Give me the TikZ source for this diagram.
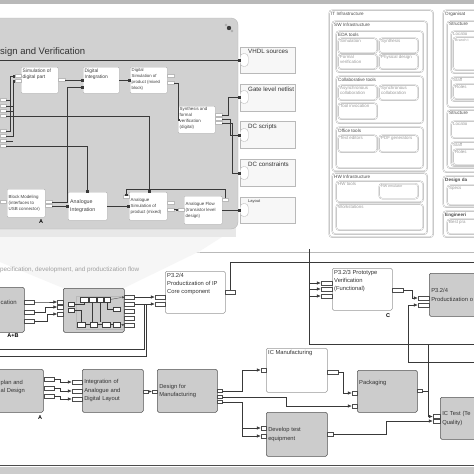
\documentclass[tikz,border=0pt]{standalone}
\usepackage{fontspec}
\setmainfont{Liberation Sans}
\usetikzlibrary{arrows.meta,calc}

\tikzset{
  cell/.style={anchor=north west, inner sep=0pt, rounded corners=1.5pt, line width=0.5pt},
  wtask/.style={cell, draw=gray!80, fill=white},
  gtask/.style={cell, draw=gray!65!black, fill=gray!40},
  ptask/.style={cell, draw=gray!60, fill=white, rounded corners=1pt, line width=0.4pt},
  doc/.style={cell, draw=gray!55, fill=gray!6, rounded corners=0pt, line width=0.4pt},
  docin/.style={draw=gray!55, fill=white, inner sep=0pt, minimum width=8pt, minimum height=13pt, rounded corners=3.5pt, line width=0.4pt},
  port/.style={draw=gray!60!black, fill=white, inner sep=0pt, minimum width=10pt, minimum height=4pt, line width=0.4pt},
  pport/.style={port, draw=gray!55, minimum width=6pt, minimum height=3.2pt},
  mport/.style={port, draw=gray!50!black, minimum height=4.5pt, line width=0.3pt},
  link/.style={draw=gray!45!black, line width=0.5pt},
  plink/.style={draw=gray!45!black, line width=0.4pt},
  arr/.style={-{Latex[length=4pt,width=3.4pt]}},
  sq/.style={-{Square[length=1.6pt,width=1.8pt]}},
  btxt/.style={anchor=north west, align=left, inner sep=2pt, font=\fontsize{5.8}{8}\selectfont, text=black!80},
  ctxt/.style={text width=#1, align=left, font=\fontsize{5.8}{8.5}\selectfont, text=black!80},
  ptxt/.style={anchor=north west, align=left, inner sep=1.5pt, font=\fontsize{4.9}{6}\selectfont, text=black!75},
  dtxt/.style={anchor=north west, inner sep=0pt, font=\fontsize{6.2}{7}\selectfont, text=black!80},
  tagtxt/.style={inner sep=0pt, font=\bfseries\fontsize{5.5}{6}\selectfont},
  itbox/.style={cell, draw=gray!65, double=white, double distance=0.6pt, line width=0.35pt, rounded corners=3pt},
  ittl/.style={anchor=north west, inner sep=1pt, xshift=1pt, yshift=-0.5pt, font=\fontsize{4.6}{5.2}\selectfont, text=black!70},
  itit/.style={anchor=north west, align=left, inner sep=1pt, xshift=1pt, yshift=-0.5pt, font=\fontsize{4.4}{5}\selectfont, text=gray!80},
}

\begin{document}
\begin{tikzpicture}[x=1pt,y=-1pt]
  \useasboundingbox (0,0) rectangle (474,474);
  \clip (0,0) rectangle (474,474);
  \fill[white] (0,0) rectangle (474,474);

  % frame bands
  \fill[gray!55] (0,0) rectangle (474,4);
  \draw[gray!60!black, line width=1.2pt] (0,465.5) -- (474,465.5);
  \fill[gray!40] (0,467) rectangle (474,474);

  % zoom lens and divider
  \draw[gray!30, line width=0.6pt] (0,252) -- (200,252);
  \draw[gray!55, line width=0.6pt] (200,252) -- (474,252);
  \fill[gray!7] (0,228) -- (236,228) -- (200,251) -- (124,288) -- (63,288) -- (0,262) -- cycle;

  % Design and Verification panel
  \fill[gray!18] (0,222) rectangle (236,237);
  \draw[fill=gray!36, draw=gray!55, rounded corners=7pt] (-12,18) rectangle (238,229);
  \fill[gray!45!black] (229,28) circle (2.2);
  \fill[gray!65] (226,25) circle (1.3) (232,31) circle (1.3);
  \node[anchor=west, inner sep=0pt, font=\fontsize{9.5}{11}\selectfont, text=black!80] (dvtitle) at (0,52) {sign and Verification};
  \coordinate (ttl) at (0,60);

  % output documents
  \node[doc, minimum width=55pt, minimum height=26pt, label={[dtxt, xshift=8pt, yshift=-2.5pt]north west:VHDL sources}] (vhdl) at (240,47) {};
  \node[doc, minimum width=55pt, minimum height=27pt, label={[dtxt, xshift=8pt, yshift=-2.5pt]north west:Gate level netlist}] (gate) at (240,84) {};
  \node[doc, minimum width=55pt, minimum height=27pt, label={[dtxt, xshift=8pt, yshift=-2.5pt]north west:DC scripts}] (dcs) at (240,121) {};
  \node[doc, minimum width=55pt, minimum height=27pt, label={[dtxt, xshift=8pt, yshift=-2.5pt]north west:DC constraints}] (dcc) at (240,159) {};
  \node[doc, minimum width=55pt, minimum height=26pt, label={[dtxt, font=\fontsize{4}{5}\selectfont, xshift=8pt, yshift=-2.5pt]north west:Layout}] (lay) at (240,197) {};
  \node[docin, anchor=west] (vhdlin) at (240,60) {};
  \node[docin, anchor=west] (gatein) at (240,97) {};
  \node[docin, anchor=west] (dcsin) at (240,135) {};
  \node[docin, anchor=west] (dccin) at (240,173) {};
  \node[docin, anchor=west] (layin) at (240,210) {};

  % panel tasks
  \node[ptask, minimum width=37pt, minimum height=26pt, label={[ptxt]north west:Simulation of\\digital part}] (simd) at (21,67) {};
  \node[ptask, minimum width=36pt, minimum height=26pt, label={[ptxt]north west:Digital\\Integration}] (digi) at (83,67) {};
  \node[ptask, minimum width=37pt, minimum height=26pt, label={[ptxt, font=\fontsize{4.3}{5.9}\selectfont]north west:Digital\\Simulation of\\product (mixed\\block)}] (dsim) at (130,67) {};
  \node[ptask, minimum width=37pt, minimum height=27pt, label={[ptxt, font=\fontsize{4.4}{5.9}\selectfont]north west:Synthesis and\\formal\\verification\\(digital)}] (synth) at (178,106) {};
  \node[ptask, minimum width=38pt, minimum height=28pt, label={[ptxt, font=\fontsize{4.4}{5.6}\selectfont, yshift=-5pt]north west:Block Modeling\\(interfaces to\\USB connector)}] (blkm) at (7,189) {};
  \node[ptask, minimum width=39pt, minimum height=28pt, text width=35pt, align=left, font=\fontsize{5.3}{8}\selectfont, text=black!75] (aint) at (68,192) {Analogue\\Integration};
  \node[ptask, minimum width=38pt, minimum height=28pt, label={[ptxt, font=\fontsize{4.4}{5.6}\selectfont, yshift=-5pt]north west:Analogue\\Simulation of\\product (mixed)}] (asim) at (129,192) {};
  \node[ptask, minimum width=38pt, minimum height=28pt, label={[ptxt, font=\fontsize{4.4}{5.6}\selectfont, yshift=-5pt]north west:Analogue Flow\\(transistor level\\design)}] (aflow) at (184,196) {};
  \node[tagtxt] (tagpa) at (41,222) {A};

  % panel ports
  \node[pport] (lp1) at (3,100) {};
  \node[pport] (lp2) at (3,106) {};
  \node[pport] (lp3) at (3,111) {};
  \node[pport] (lp4) at (3,116) {};
  \node[pport] (lp5) at (3,131) {};
  \node[pport] (lp6) at (3,136) {};
  \node[pport] (lp7) at (3,141) {};
  \node[pport] (lp8) at (3,146) {};
  \node[pport] (bmi) at (3,202) {};
  \node[pport] (si1) at (18,76) {};
  \node[pport] (si2) at (18,81) {};
  \node[pport, minimum width=7pt] (so) at (61.5,80) {};
  \node[pport, minimum width=7pt] (dso1) at (170.5,76) {};
  \node[pport, minimum width=7pt] (dso2) at (170.5,83) {};
  \node[pport, minimum width=7pt] (syo1) at (218.5,115) {};
  \node[pport, minimum width=7pt] (syo2) at (218.5,119) {};
  \node[pport, minimum width=7pt] (syo3) at (218.5,123) {};
  \node[pport, minimum width=7pt] (bmo1) at (48.5,202) {};
  \node[pport, minimum width=7pt] (bmo2) at (48.5,206) {};
  \node[pport] (asi) at (126,197) {};
  \node[pport, minimum width=7pt] (aso1) at (170.5,203) {};
  \node[pport, minimum width=7pt] (aso2) at (170.5,209.5) {};
  \node[pport] (afi) at (181,209.5) {};
  \node[pport] (afo) at (225,200) {};

  % panel connectors
  \draw[plink,sq] (lp1.east) -- ++(4,0) |- (si1.west);
  \draw[plink,sq] (lp2.east) -- ++(6.5,0) |- (si2.west);
  \draw[plink] (lp3.east) -- ++(6.5,0);
  \draw[plink] (lp5.east) -- ++(4,0) |- (si1.west);
  \draw[plink] (lp6.east) -- ++(6.5,0) |- (si2.west);
  \draw[plink] (lp7.east) -- ++(6.5,0);
  \draw[plink,sq] (lp4.east) -| ($(asim.north west)+(20,0)$);
  \draw[plink,sq] (lp8.east) -| ($(aint.north west)+(19,0)$);
  \draw[plink,sq] (so.east) -- (so.east -| digi.west);
  \draw[plink,sq] (digi.east |- so.east) -- (dsim.west |- so.east);
  \draw[plink,sq] (bmo1.east) -- ++(14.5,0) |- ($(digi.west)+(0,7)$);
  \draw[plink,sq] (bmo2.east) -- (bmo2.east -| aint.west);
  \draw[plink,sq] (aint.east) -- (asim.west);
  \draw[plink,sq] (dso2.east) -- ++(4,0) |- (synth.west);
  \draw[plink,sq] (syo1.east) -- ++(6,0) |- (gatein.west);
  \draw[plink,sq] (syo2.east) -- ++(8,0) |- (dcsin.west);
  \draw[plink,sq] (syo3.east) -- ++(10,0) |- (dccin.west);
  \draw[plink,sq] (ttl) -- (vhdlin.west);
  \draw[plink,sq] (afo.north) -- ++(0,-9) -| (asi.north);
  \draw[plink,sq] (aso2.east) -- (afi.west);
  \draw[plink,sq] (aflow.east |- layin.west) -- (layin.west);

  % IT infrastructure
  \node[itbox, minimum width=104pt, minimum height=227pt, label={[ittl]north west:IT Infrastructure}] (itinf) at (329,10) {};
  \node[itbox, minimum width=95pt, minimum height=150pt, label={[ittl]north west:SW Infrastructure}] (swinf) at (332,21) {};
  \node[itbox, minimum width=87pt, minimum height=41pt, label={[ittl]north west:EDA tools}] (eda) at (336,31) {};
  \node[itbox, minimum width=39pt, minimum height=15pt, label={[itit]north west:Simulation}] (itsim) at (338,38) {};
  \node[itbox, minimum width=39pt, minimum height=15pt, label={[itit]north west:Synthesis}] (itsyn) at (379,38) {};
  \node[itbox, minimum width=39pt, minimum height=15pt, label={[itit]north west:Formal\\verification}] (itfv) at (338,54) {};
  \node[itbox, minimum width=39pt, minimum height=15pt, label={[itit]north west:Physical design}] (itpd) at (379,54) {};
  \node[itbox, minimum width=87pt, minimum height=47pt, label={[ittl]north west:Collaborative tools}] (collab) at (336,76) {};
  \node[itbox, minimum width=39pt, minimum height=15pt, label={[itit]north west:Asynchronous\\collaboration}] (itasy) at (338,85) {};
  \node[itbox, minimum width=39pt, minimum height=15pt, label={[itit]north west:Synchronous\\collaboration}] (itsyc) at (379,85) {};
  \node[itbox, minimum width=39pt, minimum height=16pt, label={[itit]north west:Tool invocation}] (ittool) at (338,103) {};
  \node[itbox, minimum width=87pt, minimum height=41pt, label={[ittl]north west:Office tools}] (office) at (336,127) {};
  \node[itbox, minimum width=39pt, minimum height=17pt, label={[itit]north west:Text editors}] (itted) at (338,135) {};
  \node[itbox, minimum width=39pt, minimum height=17pt, label={[itit]north west:PDF generators}] (itpdf) at (379,135) {};
  \node[itbox, minimum width=95pt, minimum height=61pt, label={[ittl]north west:HW Infrastructure}] (hwinf) at (332,173) {};
  \node[itbox, minimum width=87pt, minimum height=21pt, label={[itit]north west:HW tools}] (hwtools) at (336,181) {};
  \node[itbox, minimum width=39pt, minimum height=15pt, label={[itit, font=\fontsize{3.6}{4}\selectfont]north west:HW emulator}] (hwemu) at (379,183.5) {};
  \node[itbox, minimum width=87pt, minimum height=26pt, label={[itit]north west:Workstations}] (wstat) at (336,204) {};

  % Organisation
  \node[itbox, minimum width=52pt, minimum height=162pt, label={[ittl]north west:Organisat}] (org) at (443,10) {};
  \node[itbox, minimum width=48pt, minimum height=86pt, label={[ittl]north west:Structure}] (str1) at (447,21) {};
  \node[itbox, minimum width=44pt, minimum height=42pt, label={[itit]north west:Locatio}] (loc1) at (451,31) {};
  \node[itbox, minimum width=42pt, minimum height=33pt, label={[itit, font=\fontsize{3.6}{4}\selectfont]north west:Branch t}] (brch) at (453,37) {};
  \node[itbox, minimum width=44pt, minimum height=24pt, label={[itit]north west:Staff}] (stf1) at (451,77) {};
  \node[itbox, minimum width=42pt, minimum height=15pt, label={[itit]north west:Roles}] (rol1) at (453,84) {};
  \node[itbox, minimum width=48pt, minimum height=58pt, label={[ittl]north west:Structure}] (str2) at (447,110) {};
  \node[itbox, minimum width=44pt, minimum height=17pt, label={[itit]north west:Locatio}] (loc2) at (451,121) {};
  \node[itbox, minimum width=44pt, minimum height=24pt, label={[itit]north west:Staff}] (stf2) at (451,142) {};
  \node[itbox, minimum width=42pt, minimum height=16pt, label={[itit]north west:Roles}] (rol2) at (453,149) {};
  \node[itbox, minimum width=52pt, minimum height=31pt, label={[ittl, font=\bfseries\fontsize{4.6}{5.2}\selectfont]north west:Design da}] (ddata) at (443,176) {};
  \node[itbox, minimum width=48pt, minimum height=20pt, label={[itit]north west:Specs}] (specs) at (447,185) {};
  \node[itbox, minimum width=52pt, minimum height=26pt, label={[ittl, font=\bfseries\fontsize{4.6}{5.2}\selectfont]north west:Engineeri}] (engr) at (443,211) {};
  \node[itbox, minimum width=48pt, minimum height=15pt, label={[itit]north west:Best pra}] (bestp) at (447,219) {};

  % flow title
  \node[anchor=west, inner sep=0pt, font=\fontsize{6.3}{7}\selectfont, text=gray!75] (flowtitle) at (0,270) {pecification, development, and productization flow};

  % upper flow row
  \node[gtask, minimum width=36pt, minimum height=45pt] (spec) at (-12,287) {};
  \node[btxt, anchor=west, inner sep=0pt, font=\fontsize{6}{7}\selectfont] (spect) at (0.5,302) {cation};
  \node[tagtxt] (tagab) at (13,336) {A+B};
  \node[port] (sp1) at (29,302) {};
  \node[port] (sp2) at (29,312) {};
  \node[port] (sp3) at (29,321) {};

  \node[gtask, draw=gray!60!black, minimum width=61pt, minimum height=44pt] (mini) at (63,288) {};
  \draw[gray!55, line width=0.3pt] (76,296) rectangle (123,329);
  \foreach \n/\x/\y/\w in {a/71.5/304/6, b/71.5/310/6, c/84/299.5/8, d/92.5/299.5/7, e/100/299.5/6, f/107/299.5/6, g/116.5/309/7, h/81/324.5/8, i/93.5/324.5/7, j/106/324.5/8, k/116.5/324.5/7}
    \node[mport, minimum width=\w pt] (mn\n) at (\x,\y) {};
  \draw[plink, line width=0.3pt] (mnb.east) -| (mnh.north);
  \draw[plink, line width=0.3pt] (mna.east) -| (mnc.south);
  \draw[plink, line width=0.3pt] (mnd.south) -- (mnd.south |- mni.north);
  \draw[plink, line width=0.3pt] (mne.south) -- (mne.south |- mnj.north);
  \draw[plink, line width=0.3pt] (mnf.south) |- (mng.west);
  \draw[plink, line width=0.3pt] (mnh.east) -- (mni.west);
  \draw[plink, line width=0.3pt] (mni.east) -- (mnj.west);
  \draw[plink, line width=0.3pt] (mnj.east) -- (mnk.west);
  \node[port, minimum width=6pt] (mi1) at (60.5,302) {};
  \node[port, minimum width=6pt] (mi2) at (60.5,307) {};
  \node[port, minimum width=6pt] (mi3) at (60.5,314) {};
  \node[port] (mo1) at (129.5,297) {};
  \node[port] (mo2) at (129.5,304) {};
  \node[port] (mo3) at (129.5,311) {};
  \node[port] (mo4) at (129.5,318) {};
  \node[port] (mo5) at (129.5,325) {};
  \draw[plink, line width=0.3pt, -{Latex[length=2pt,width=2pt]}] (mnf.east) -- (mo1.west);
  \draw[plink, line width=0.3pt, -{Latex[length=2pt,width=2pt]}] (mnk.east) -- (mo5.west);

  \draw[link,arr] (sp1.east) -- ++(11,0) |- (mi1.west);
  \draw[link,arr] (sp2.east) -- ++(11,0) |- (mi2.west);
  \draw[link,arr] (sp3.east) -- ++(13,0) |- (mi3.west);

  \node[wtask, minimum width=60pt, minimum height=42pt, label={[btxt]north west:P3.2/4\\Productization of IP\\Core component}] (pip) at (165,271) {};
  \node[port] (pi1) at (160,297) {};
  \node[port] (pi2) at (160,304) {};
  \node[port] (po) at (230.5,292) {};
  \draw[link,arr] (mo1.east) -- (mo1.east -| pi1.west);
  \draw[link,arr] (mo2.east) -- (mo2.east -| pi2.west);
  \coordinate (lpa) at (0,349);
  \coordinate (lpb) at (0,356);
  \draw[link] (lpa) -| ($(pi2.west)+(-11,0)$);
  \draw[link] (lpb) -| ($(pi2.west)+(-9,0)$);
  \coordinate (rt262) at (474,262);
  \draw[link] (po.north) |- (rt262);

  \node[wtask, minimum width=60pt, minimum height=42pt, label={[btxt]north west:P3.2/3 Prototype\\Verification\\(Functional)}] (pv) at (332,268) {};
  \node[tagtxt] (tagc) at (388,316) {C};
  \node[port, minimum width=11pt] (pvi1) at (326.5,283) {};
  \node[port, minimum width=11pt] (pvi2) at (326.5,289) {};
  \node[port, minimum width=11pt] (pvi3) at (326.5,296) {};
  \node[port, minimum width=11pt] (pvo) at (397.5,290) {};
  \coordinate (vtop) at (309,249);
  \coordinate (rt344) at (474,344);
  \draw[link] (vtop) |- (rt344);
  \draw[link,arr] (vtop |- pvi1.west) -- (pvi1.west);
  \draw[link,arr] (vtop |- pvi2.west) -- (pvi2.west);
  \draw[link,arr] (vtop |- pvi3.west) -- (pvi3.west);

  \node[gtask, minimum width=61pt, minimum height=43pt, ctxt=57pt] (pr) at (429,273) {P3.2/4\\Productization o};
  \node[port, minimum width=11pt] (pri1) at (423.5,298) {};
  \node[port, minimum width=11pt] (pri2) at (423.5,305) {};
  \draw[link,arr] (pvo.east) -- ++(9,0) |- (pri1.west);
  \coordinate (rt362) at (474,362);
  \draw[link,arr] (rt362) -| ($(pri2.west)+(-10,0)$) -- (pri2.west);

  % lower flow row
  \node[gtask, minimum width=55pt, minimum height=43pt] (plan) at (-12,369) {};
  \node[btxt, inner sep=0pt] (plant) at (0.5,380) {plan and\\al Design};
  \node[tagtxt] (taga) at (40,418) {A};
  \node[port] (lo1) at (49,379) {};
  \node[port] (lo2) at (49,388) {};
  \node[port] (lo3) at (49,396) {};

  \node[gtask, minimum width=61pt, minimum height=43pt, ctxt=57pt] (iad) at (82,369) {Integration of\\Analogue and\\Digital Layout};
  \node[port] (ii1) at (77,382) {};
  \node[port] (ii2) at (77,391) {};
  \node[port] (ii3) at (77,399) {};
  \node[port, minimum width=5pt, minimum height=3pt] (io) at (145.5,391.5) {};
  \draw[link,arr] (lo1.east) -- ++(6,0) |- (ii1.west);
  \draw[link,arr] (lo2.east) -- ++(6,0) |- (ii2.west);
  \draw[link,arr] (lo3.east) -- ++(6,0) |- (ii3.west);

  \node[gtask, minimum width=60pt, minimum height=43pt, ctxt=56pt] (dfm) at (157,369) {Design for\\Manufacturing};
  \node[port, minimum width=5pt, minimum height=3pt] (di) at (154.5,391.5) {};
  \node[port, minimum width=5pt, minimum height=3pt] (do1) at (219.5,391) {};
  \node[port, minimum width=5pt, minimum height=3pt] (do2) at (219.5,397) {};
  \node[port, minimum width=5pt, minimum height=3pt] (do3) at (219.5,402) {};
  \draw[link,-{Latex[length=2.5pt,width=2.6pt]}] (io.east) -- (di.west);

  \node[wtask, minimum width=61pt, minimum height=44pt, label={[btxt]north west:IC Manufacturing}] (icm) at (266,348) {};
  \node[port, minimum width=5pt] (ci) at (263.5,370) {};
  \node[port, minimum width=11pt] (co) at (332.5,372) {};

  \node[gtask, minimum width=60pt, minimum height=42pt, label={[btxt, yshift=-8pt]north west:Packaging}] (pkg) at (357,370) {};
  \node[port, minimum width=5pt] (pk1) at (354.5,393) {};
  \node[port, minimum width=5pt] (pk2) at (354.5,406) {};
  \node[port, minimum width=5pt, minimum height=3pt] (pko) at (419.5,391) {};

  \node[gtask, minimum width=61pt, minimum height=44pt, ctxt=57pt] (dte) at (266,412) {Develop test\\equipment};
  \node[port, minimum width=5pt] (dt1) at (263.5,428) {};
  \node[port, minimum width=5pt] (dt2) at (263.5,436) {};
  \node[port, minimum width=6pt] (dto) at (330,434) {};

  \node[gtask, minimum width=61pt, minimum height=42pt, ctxt=57pt] (ict) at (440,397) {IC Test (Te\\Quality)};
  \node[port, minimum width=7pt] (it1) at (436.5,416.5) {};
  \node[port, minimum width=7pt] (it2) at (436.5,421) {};

  \draw[link,arr] (do1.east) -- ++(20,0) |- (ci.west);
  \draw[link,arr] (do2.east) -- ++(64,0) |- (pk2.west);
  \draw[link,arr] (do3.east) -- ++(20,0) |- (dt1.west);
  \draw[link,arr] (do3.east) -- ++(20,0) |- (dt2.west);
  \draw[link,arr] (co.east) -- ++(5,0) |- (pk1.west);
  \coordinate (j428) at (428,344);
  \draw[link,arr] (j428) |- (it1.west);
  \draw[link] (pko.east) -- (pko.east -| j428);
  \draw[link,arr] (dto.east) -- ++(53,0) |- (it2.west);
\end{tikzpicture}
\end{document}
